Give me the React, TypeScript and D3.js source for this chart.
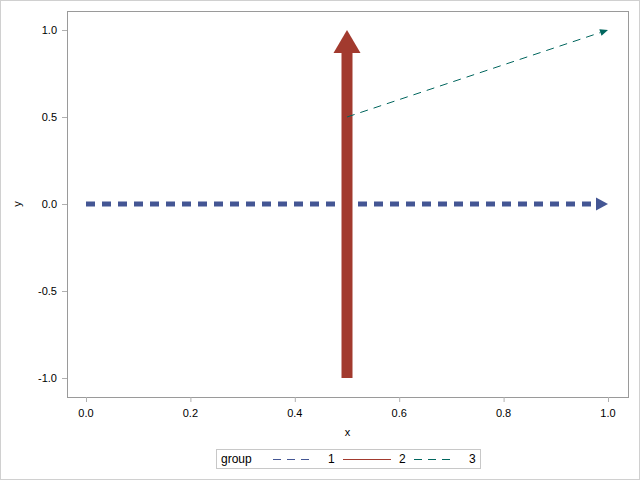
import React from "react";
import * as d3 from "d3";

// vector data (one row per group)
const groups = ["1", "2", "3"];
const xOrigin = [0, 0.5, 0.5];
const yOrigin = [0, -1, 0.5];
const xEnd = [1, 0.5, 1];
const yEnd = [0, 1, 1];

const xTicks = [0, 0.2, 0.4, 0.6, 0.8, 1.0];
const yTicks = [-1, -0.5, 0, 0.5, 1];

const styles: Record<string, { color: string; width: number; dash: string; head: number; headW: number }> = {
  "1": { color: "#445694", width: 5, dash: "9 7", head: 12, headW: 13 },
  "2": { color: "#A23A2E", width: 11, dash: "", head: 23, headW: 27 },
  "3": { color: "#01665E", width: 1, dash: "8 6", head: 8, headW: 7 },
};

const W = 640;
const H = 480;
const plot = { left: 67, right: 628, top: 11, bottom: 397 };
const font = "'Liberation Sans', Arial, sans-serif";

const App: React.FC = () => {
  const xScale = d3.scaleLinear().domain([0, 1]).range([86, 608]);
  const yScale = d3.scaleLinear().domain([-1, 1]).range([378, 30]);

  const vectors = groups.map((g, i) => {
    const x0 = xScale(xOrigin[i]);
    const y0 = yScale(yOrigin[i]);
    const x1 = xScale(xEnd[i]);
    const y1 = yScale(yEnd[i]);
    const s = styles[g];
    const len = Math.hypot(x1 - x0, y1 - y0);
    const ux = (x1 - x0) / len;
    const uy = (y1 - y0) / len;
    // base of arrow head
    const bx = x1 - ux * s.head;
    const by = y1 - uy * s.head;
    const px = -uy * (s.headW / 2);
    const py = ux * (s.headW / 2);
    const headPts = [
      [x1, y1],
      [bx + px, by + py],
      [bx - px, by - py],
    ]
      .map((p) => p.join(","))
      .join(" ");
    return { g, x0, y0, bx, by, headPts, s };
  });

  // legend layout
  const legendItems = [
    { g: "1", x1: 273, x2: 311, tx: 328 },
    { g: "2", x1: 343, x2: 391, tx: 399 },
    { g: "3", x1: 414, x2: 456, tx: 469 },
  ];

  return (
    <svg width={W} height={H} style={{ display: "block", position: "absolute", left: 0, top: 0 }}>
      <rect x={0.5} y={0.5} width={W - 1} height={H - 1} fill="#fff" stroke="#d0d0d0" />

      {/* plot frame */}
      <rect
        x={plot.left + 0.5}
        y={plot.top + 0.5}
        width={plot.right - plot.left}
        height={plot.bottom - plot.top}
        fill="#fff"
        stroke="#9a9a9a"
      />

      {/* Y axis */}
      <g fontFamily={font} fontSize={11} fill="#000">
        {yTicks.map((t, i) => (
          <g key={i}>
            <line x1={62} x2={67} y1={yScale(t) + 0.5} y2={yScale(t) + 0.5} stroke="#b0b0b0" />
            <text x={57} y={yScale(t)} dy={4} textAnchor="end">
              {d3.format(".1f")(t).replace("−", "-")}
            </text>
          </g>
        ))}
        <text transform={`translate(21,${yScale(0)}) rotate(-90)`} textAnchor="middle">
          y
        </text>
      </g>

      {/* X axis */}
      <g fontFamily={font} fontSize={11} fill="#000">
        {xTicks.map((t, i) => (
          <g key={i}>
            <line x1={xScale(t) + 0.5} x2={xScale(t) + 0.5} y1={397} y2={402} stroke="#b0b0b0" />
            <text x={xScale(t)} y={417} textAnchor="middle">
              {d3.format(".1f")(t)}
            </text>
          </g>
        ))}
        <text x={(plot.left + plot.right) / 2} y={436} textAnchor="middle">
          x
        </text>
      </g>

      {/* vectors */}
      {vectors.map((v) => (
        <g key={v.g}>
          <line
            x1={v.x0}
            y1={v.y0}
            x2={v.bx}
            y2={v.by}
            stroke={v.s.color}
            strokeWidth={v.s.width}
            strokeDasharray={v.s.dash || undefined}
          />
          <polygon points={v.headPts} fill={v.s.color} />
        </g>
      ))}

      {/* legend */}
      <g fontFamily={font} fontSize={12}>
        <rect x={216.5} y={449.5} width={264} height={19} fill="#fff" stroke="#c8c8c8" />
        <text x={221} y={463}>
          group
        </text>
        {legendItems.map((it) => (
          <g key={it.g}>
            <line
              x1={it.x1}
              x2={it.x2}
              y1={459.5}
              y2={459.5}
              stroke={styles[it.g].color}
              strokeWidth={1}
              strokeDasharray={styles[it.g].dash ? "8 6" : undefined}
            />
            <text x={it.tx} y={463}>
              {it.g}
            </text>
          </g>
        ))}
      </g>
    </svg>
  );
};

export default App;
